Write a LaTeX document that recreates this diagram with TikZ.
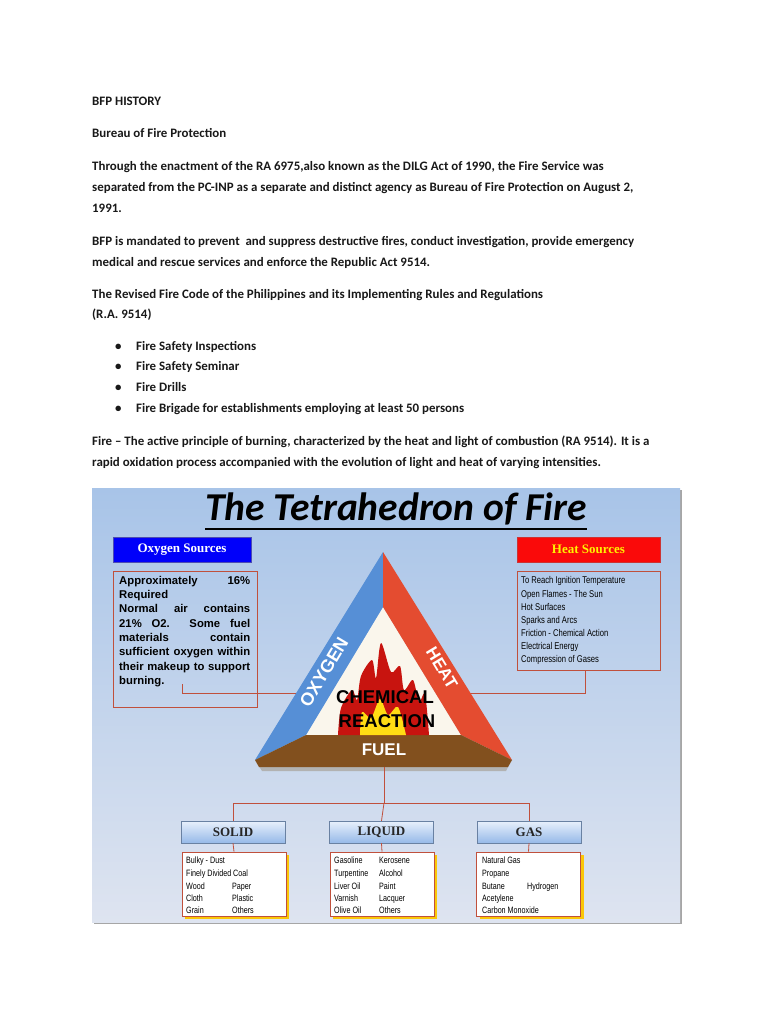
\documentclass[tikz,border=0pt]{standalone}
\usepackage{fontspec}
\setmainfont{Carlito}
\newfontfamily\arialb{Liberation Sans}
\newfontfamily\timesf{Liberation Serif}
\newfontfamily\narrowf[FakeStretch=0.78]{Liberation Sans}
\definecolor{bgtop}{RGB}{168,196,232}
\definecolor{bgbot}{RGB}{222,228,240}
\definecolor{oxblue}{RGB}{0,0,250}
\definecolor{htred}{RGB}{250,10,10}
\definecolor{inner}{RGB}{250,246,236}
\definecolor{bandblue}{RGB}{86,143,214}
\definecolor{bandred}{RGB}{228,76,48}
\definecolor{fuelbrown}{RGB}{130,80,30}
\definecolor{flamered}{RGB}{200,20,15}
\definecolor{flameyel}{RGB}{255,220,20}
\definecolor{hdrtop}{RGB}{232,240,252}
\definecolor{hdrbot}{RGB}{150,185,232}
\definecolor{lineclr}{RGB}{192,80,60}
\begin{document}
\begin{tikzpicture}[x=1pt,y=-1pt,
  body/.style={anchor=base west,inner sep=0,font=\bfseries\fontsize{12.9}{14}\selectfont,text=black!90},
  redline/.style={draw=lineclr,line width=0.8pt},
  hdr/.style={minimum width=104pt,minimum height=22pt,draw=hdrbot!70!black,top color=hdrtop,bottom color=hdrbot,font=\timesf\bfseries\fontsize{13}{15}\selectfont,text=black!85,inner sep=0},
  lst/.style={draw=lineclr,line width=0.7pt,minimum width=104pt,minimum height=64pt,fill=white,inner sep=0},
  lt/.style={anchor=base west,inner sep=0,font=\narrowf\fontsize{9.2}{10}\selectfont},
]
\useasboundingbox (0,0) rectangle (768,1024);
\fill[white] (0,0) rectangle (768,1024);
% body text
\node[body] (t1) at (92,106) {BFP HISTORY};
\node[body] (t2) at (92,138) {Bureau of Fire Protection};
\node[body] (t3) at (92,171) {Through the enactment of the RA 6975,also known as the DILG Act of 1990, the Fire Service was};
\node[body] (t4) at (92,192) {separated from the PC-INP as a separate and distinct agency as Bureau of Fire Protection on August 2,};
\node[body] (t5) at (92,213) {1991.};
\node[body] (t6) at (92,245) {BFP is mandated to prevent\ \ and suppress destructive fires, conduct investigation, provide emergency};
\node[body] (t7) at (92,266) {medical and rescue services and enforce the Republic Act 9514.};
\node[body] (t8) at (92,298) {The Revised Fire Code of the Philippines and its Implementing Rules and Regulations};
\node[body] (t9) at (92,318) {(R.A. 9514)};
\foreach \yy/\tx [count=\i] in {350/Fire Safety Inspections,370/Fire Safety Seminar,391/Fire Drills,412/Fire Brigade for establishments employing at least 50 persons}{
  \node[body] (bd\i) at (115,\yy) {\textbullet};
  \node[body] (b\i) at (136,\yy) {\tx};
}
\node[body] (t10) at (92,445) {Fire -- The active principle of burning, characterized by the heat and light of combustion (RA 9514). It is a};
\node[body] (t11) at (92,466) {rapid oxidation process accompanied with the evolution of light and heat of varying intensities.};
% panel
\fill[gray!70] (94,490) rectangle (682,924);
\shade[top color=bgtop,bottom color=bgbot] (92,488) rectangle (680,922);
\node[inner sep=0,font=\bfseries\itshape\fontsize{39.5}{44}\selectfont] (title) at (396,509) {The Tetrahedron of Fire};
\draw[line width=1.6pt] (205,529) -- (587,529);
% source headers
\node[draw=blue!40!gray,fill=oxblue,minimum width=138pt,minimum height=25pt,inner sep=0,text=white,font=\timesf\bfseries\fontsize{13}{15}\selectfont] (oxh) at (182,549.5) {Oxygen Sources};
\node[draw=red!60!gray,fill=htred,minimum width=143pt,minimum height=25pt,inner sep=0,text=yellow,font=\timesf\bfseries\fontsize{13}{15}\selectfont] (hth) at (588.5,549.5) {Heat Sources};
% left box
\node[redline,minimum width=144pt,minimum height=136pt,inner sep=0] (oxb) at (185,639) {};
\node[anchor=north west,inner sep=0,font=\arialb\bfseries\fontsize{11.3}{14.3}\selectfont,align=left] (oxt) at (119,576) {%
\makebox[131pt][s]{Approximately 16\%}\\
Required\\
\makebox[131pt][s]{Normal air contains}\\
\makebox[131pt][s]{21\% O2.\ \ Some fuel}\\
\makebox[131pt][s]{materials contain}\\
\makebox[131pt][s]{sufficient oxygen within}\\
\makebox[131pt][s]{their makeup to support}\\
burning.};
% right box
\node[redline,minimum width=143pt,minimum height=99pt,inner sep=0] (htb) at (588.5,620.5) {};
\foreach \yy/\tx [count=\i] in {583/To Reach Ignition Temperature,597/Open Flames - The Sun,610/Hot Surfaces,623/Sparks and Arcs,636/Friction - Chemical Action,649/Electrical Energy,662/Compression of Gases}{
  \node[lt,font=\narrowf\fontsize{9.8}{11}\selectfont] (h\i) at (521,\yy) {\tx};
}
% connectors to triangle
\coordinate (lc1) at (182,684);
\coordinate (lc2) at (297,693);
\coordinate (rc1) at (585,670);
\coordinate (rc2) at (470,693);
\draw[redline] (lc1) |- (lc2);
\draw[redline] (rc1) |- (rc2);
% triangle
\coordinate (A) at (383,552);
\coordinate (Ai) at (383,607);
\coordinate (L) at (255,760);
\coordinate (R) at (512,760);
\coordinate (Li) at (306,735);
\coordinate (Ri) at (461,735);
\fill[gray!60] (257,763) -- (510,763) -- (506,771) -- (262,771) -- cycle;
\fill[inner] (Ai) -- (Li) -- (Ri) -- cycle;
\fill[bandblue] (A) -- (Ai) -- (Li) -- (L) -- cycle;
\fill[bandred] (A) -- (Ai) -- (Ri) -- (R) -- cycle;
\fill[fuelbrown] (Li) -- (Ri) -- (R) -- (508,767) -- (259,767) -- (L) -- cycle;
% flame
\fill[flamered] plot[smooth] coordinates {(338,735) (341,708) (352,690) (357,700) (361,676) (372,660) (376,678) (381,643) (391,672) (400,666) (404,690) (413,680) (419,702) (425,694) (429,735)} -- cycle;
\fill[flameyel] plot[smooth] coordinates {(360,735) (362,712) (371,718) (380,699) (388,715) (398,707) (406,735)} -- cycle;
\node[inner sep=0,rotate=59,text=white,font=\arialb\bfseries\fontsize{18}{19}\selectfont] (oxl) at (324,672) {OXYGEN};
\node[inner sep=0,rotate=-59,text=white,font=\arialb\bfseries\fontsize{17}{18}\selectfont] (htl) at (442,668) {HEAT};
\node[inner sep=0,font=\arialb\bfseries\fontsize{18.5}{20}\selectfont] (chem) at (385,697) {CHEMICAL};
\node[inner sep=0,font=\arialb\bfseries\fontsize{18.5}{20}\selectfont] (reac) at (387,721) {REACTION};
\node[inner sep=0,text=white,font=\arialb\bfseries\fontsize{17}{18}\selectfont] (fuel) at (384,750) {FUEL};
% lower tree
\coordinate (fb) at (384,767);
\coordinate (jn) at (384,803);
\node[hdr] (solid) at (233,832) {SOLID};
\node[hdr] (liquid) at (381.5,832) {LIQUID};
\node[hdr] (gas) at (529,832) {GAS};
\draw[redline] (fb) -- (jn);
\draw[redline] (solid.north) |- (jn);
\draw[redline] (gas.north) |- (jn);
\draw[redline] (jn) -- (liquid.north);
\foreach \n/\cx in {solid/234,liquid/382,gas/528.5}{
  \fill[yellow!60!orange] (\cx-49,855) rectangle (\cx+55,919);
  \node[lst] (\n L) at (\cx,884) {};
  \draw[redline] (\n.south) -- (\n L.north);
}
\foreach \yy/\a/\b [count=\i] in {863/Bulky - Dust/,876/Finely Divided Coal/,889/Wood/Paper,901/Cloth/Plastic,913/Grain/Others}{
  \node[lt] (s\i) at (186,\yy) {\a};
  \node[lt] (ss\i) at (232,\yy) {\b};
}
\foreach \yy/\a/\b [count=\i] in {863/Gasoline/Kerosene,876/Turpentine/Alcohol,889/Liver Oil/Paint,901/Varnish/Lacquer,913/Olive Oil/Others}{
  \node[lt] (l\i) at (334,\yy) {\a};
  \node[lt] (ll\i) at (379,\yy) {\b};
}
\foreach \yy/\a/\b [count=\i] in {863/Natural Gas/,876/Propane/,889/Butane/Hydrogen,901/Acetylene/,913/Carbon Monoxide/}{
  \node[lt] (g\i) at (482,\yy) {\a};
  \node[lt] (gg\i) at (527,\yy) {\b};
}
\end{tikzpicture}
\end{document}
